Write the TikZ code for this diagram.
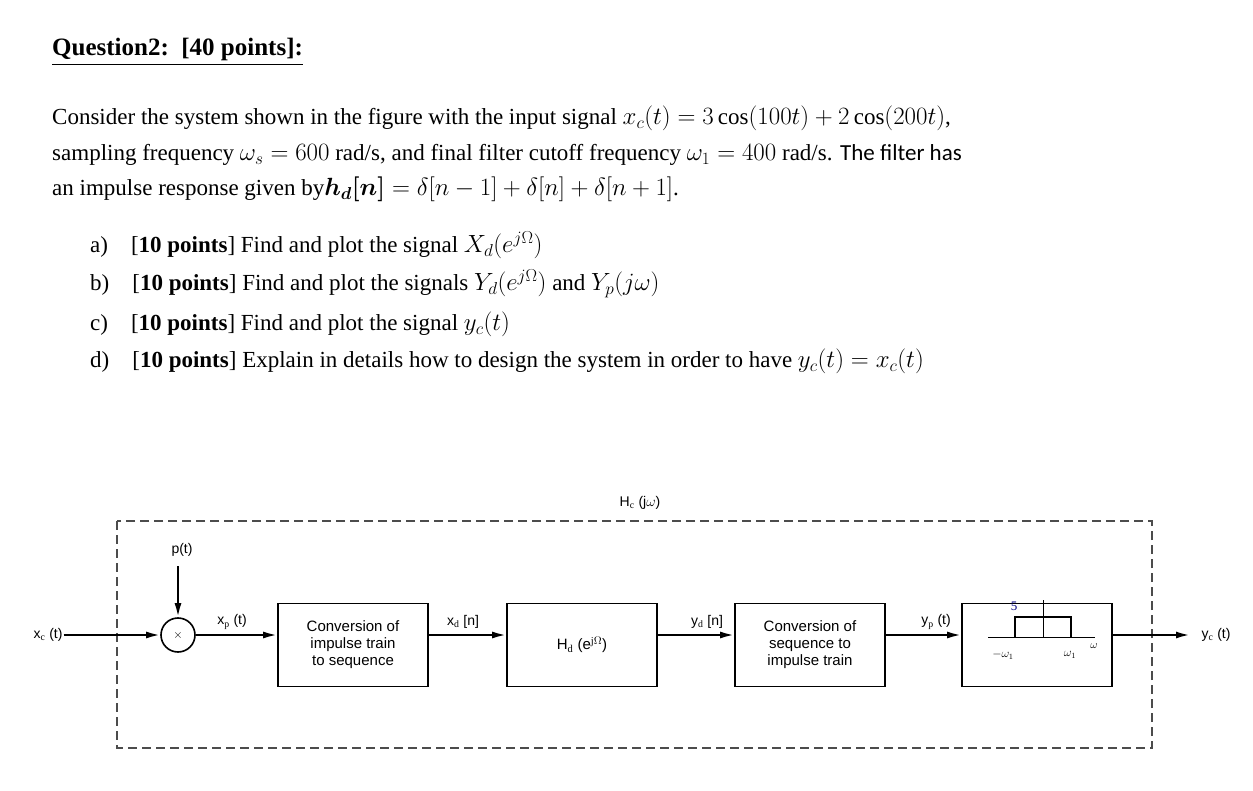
\documentclass[tikz,border=0pt]{standalone}
\usepackage{amsmath}
\usepackage{bm}
\usepackage{fontspec}
\setmainfont{Liberation Serif}
\newfontfamily\diag{Liberation Sans}
\newfontfamily\calfnt{Carlito}
\usetikzlibrary{arrows.meta}
\begin{document}
\begin{tikzpicture}[x=1pt,y=-1pt,
  txt/.style={anchor=base west,inner sep=0,font=\fontsize{23}{28}\selectfont},
  blk/.style={draw,line width=1.6pt,minimum width=150pt,minimum height=83pt,font=\diag\fontsize{15}{17}\selectfont,align=center,inner sep=1pt},
  lab/.style={font=\diag\fontsize{14}{16}\selectfont,inner sep=1pt},
  sig/.style={line width=2.2pt,-{Latex[length=14pt,width=7pt]}}]
\useasboundingbox (0,0) rectangle (1253,791);
\node[txt,font=\bfseries\fontsize{25}{30}\selectfont] (title) at (52,56) {\underline{Question2:\ \ [40 points]:}};
\node[txt] (l1) at (52,125) {Consider the system shown in the figure with the input signal $x_c(t)=3\cos(100t)+2\cos(200t)$,};
\node[txt] (l2) at (52,161) {sampling frequency $\omega_s=600$ rad/s, and final filter cutoff frequency $\omega_1=400$ rad/s. {\calfnt The filter has}};
\node[txt] (l3) at (52,196) {an impulse response given by$\bm{h_d[n]}=\delta[n-1]+\delta[n]+\delta[n+1]$.};
\node[txt] (a) at (90,253) {a)\quad [\textbf{10 points}] Find and plot the signal $X_d(e^{j\Omega})$};
\node[txt] (b) at (90,291) {b)\quad [\textbf{10 points}] Find and plot the signals $Y_d(e^{j\Omega})$ and $Y_p(j\omega)$};
\node[txt] (c) at (90,331) {c)\quad [\textbf{10 points}] Find and plot the signal $y_c(t)$};
\node[txt] (d) at (90,368) {d)\quad [\textbf{10 points}] Explain in details how to design the system in order to have $y_c(t)=x_c(t)$};
% diagram
\draw[dashed,line width=1.3pt,dash pattern=on 9pt off 5pt,gray!60!black] (117,521) rectangle (1152,748);
\node[lab] (hc) at (640,503) {H$_\mathrm{c}$ (j$\omega$)};
\node[lab] (xc) at (48,635) {x$_\mathrm{c}$ (t)};
\node[draw,circle,line width=1.6pt,minimum size=34pt,inner sep=0,font=\diag\fontsize{13}{14}\selectfont] (m) at (178,635) {$\times$};
\node[lab] (p) at (182,550) {p(t)};
\coordinate (pt) at (178,566);
\node[blk] (b1) at (353,645) {Conversion of\\impulse train\\to sequence};
\node[blk] (b2) at (582,645) {H$_\mathrm{d}$ (e$^{\mathrm{j}\Omega}$)};
\node[blk] (b3) at (810,645) {Conversion of\\sequence to\\impulse train};
\node[blk] (b4) at (1037,645) {};
\node[lab] (yc) at (1216,635) {y$_\mathrm{c}$ (t)};
\coordinate (out) at (1190,635);
\draw[sig] (xc.east) -- (m.west);
\draw[sig] (pt) -- (m.north);
\draw[sig] (m.east) -- (m.east -| b1.west);
\draw[sig] (b1.east |- 635,635) -- (b2.west |- 635,635);
\draw[sig] (b2.east |- 635,635) -- (b3.west |- 635,635);
\draw[sig] (b3.east |- 635,635) -- (b4.west |- 635,635);
\draw[sig] (b4.east |- 635,635) -- (out);
\node[lab] at (232,622) {x$_\mathrm{p}$ (t)};
\node[lab] at (463,622) {x$_\mathrm{d}$ [n]};
\node[lab] at (707,622) {y$_\mathrm{d}$ [n]};
\node[lab] at (936,622) {y$_\mathrm{p}$ (t)};
% filter plot
\draw[line width=1pt] (988,637) -- (1095,637);
\draw[line width=1pt] (1043,600) -- (1043,637);
\draw[line width=2pt] (1015,637) -- (1015,617) -- (1071,617) -- (1071,637);
\node[font=\fontsize{13}{14}\selectfont,text=blue!50!black,inner sep=0] at (1014,606) {5};
\node[font=\fontsize{12}{14}\selectfont,inner sep=0] at (1003,655) {$-\omega_1$};
\node[font=\fontsize{12}{14}\selectfont,inner sep=0] at (1070,655) {$\omega_1$};
\node[font=\fontsize{11}{12}\selectfont,inner sep=0] at (1094,646) {$\omega$};
\end{tikzpicture}
\end{document}
